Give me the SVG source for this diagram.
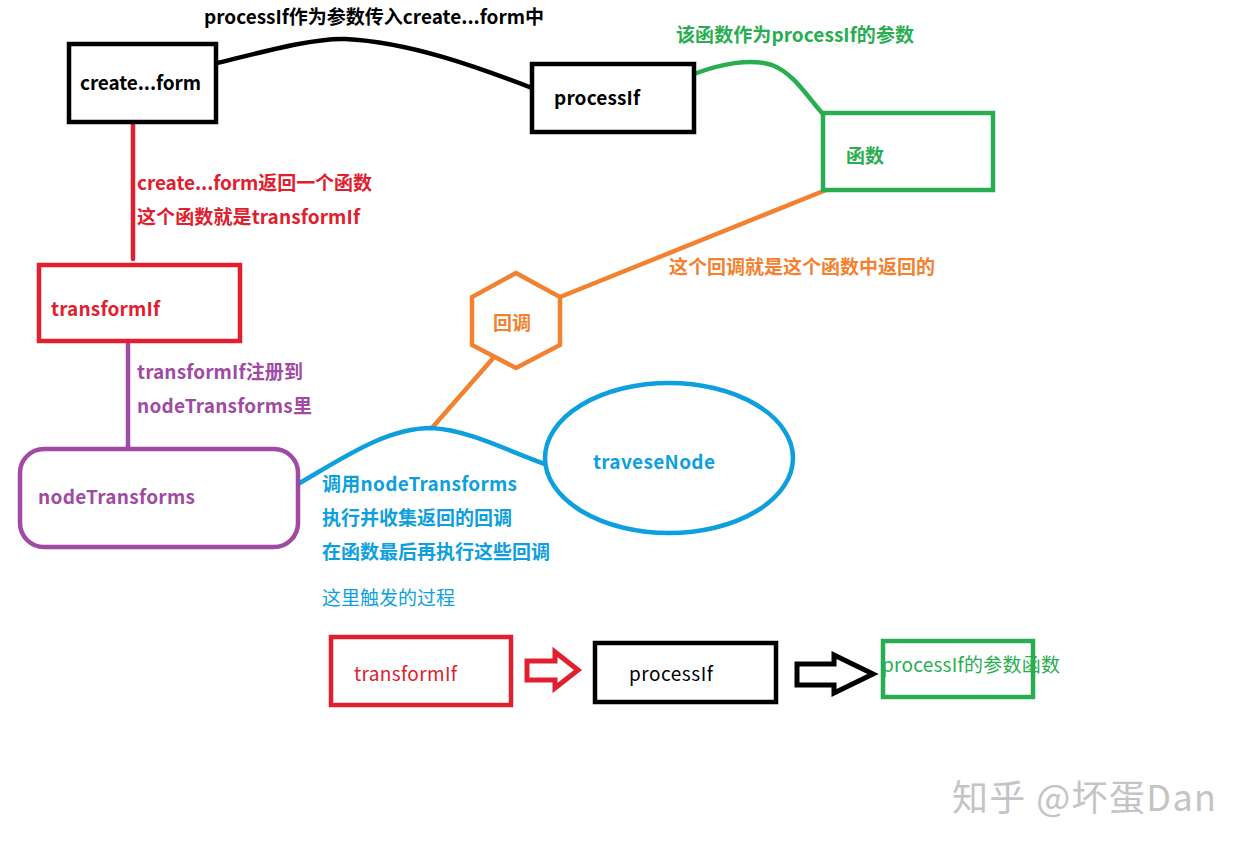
<svg xmlns="http://www.w3.org/2000/svg" width="1247" height="849" viewBox="0 0 1247 849">
<style>
text{font-family:"Noto Sans CJK SC","Open Sans","Liberation Sans",sans-serif;font-size:19px;font-weight:700}
.n{font-family:"Noto Sans CJK SC","Open Sans",sans-serif;font-weight:400}
.box{fill:#fff;stroke-width:4.5}
.c{fill:none;stroke-width:4.5}
.k{stroke:#000}.r{stroke:#e0202e}.g{stroke:#28ae50}.o{stroke:#f28130}.p{stroke:#a04aa4}.b{stroke:#0ea0de}
.tk{fill:#000}.tr{fill:#e0202e}.tg{fill:#28ae50}.to{fill:#f28130}.tp{fill:#a04aa4}.tb{fill:#0ea0de}
</style>
<rect width="1247" height="849" fill="#fff"/>
<g id="connectors">
<path class="c k" d="M217 63C270 50 315 38 345 39C410 42 480 68 532 88"/>
<path class="c g" d="M694 74C720 64 750 58 772 65C795 74 808 98 823 114"/>
<path class="c r" d="M133 122V259" stroke-linecap="round"/>
<path class="c p" d="M128 341V450"/>
<path class="c o" d="M826 190L560 297"/>
<path class="c o" d="M495 356L431 429"/>
<path class="c b" d="M298 484C340 460 385 428 431 428C470 430 510 452 545 464"/>
</g>
<g id="createform"><rect class="box k" x="69" y="44" width="147" height="78"/><text class="tk" x="80" y="90" textLength="121">create...form</text></g>
<g id="processIf"><rect class="box k" x="532" y="64" width="162" height="68"/><text class="tk" x="554" y="105" textLength="86">processIf</text></g>
<g id="hanshu"><rect class="box g" x="823" y="113" width="170" height="77"/><text class="tg" x="846" y="163">函数</text></g>
<g id="transformIf"><rect class="box r" x="39" y="265" width="201" height="76"/><text class="tr" x="51" y="316" textLength="109">transformIf</text></g>
<g id="huidiao"><polygon class="box o" points="516,273 560,297 560,345 516,368 472,345 472,297"/><text class="to" x="493" y="330">回调</text></g>
<g id="nodeTransforms"><rect class="box p" x="20" y="449" width="278" height="98" rx="24"/><text class="tp" x="38" y="504" textLength="157">nodeTransforms</text></g>
<g id="traveseNode"><ellipse class="box b" cx="669" cy="458" rx="124" ry="75"/><text class="tb" x="593" y="469" textLength="122">traveseNode</text></g>
<g id="labels">
<text class="tk" x="204" y="24">processIf作为参数传入create...form中</text>
<text class="tg" x="676" y="42" textLength="238">该函数作为processIf的参数</text>
<text class="tr" x="137" y="190" textLength="235">create...form返回一个函数</text>
<text class="tr" x="137" y="224" textLength="223">这个函数就是transformIf</text>
<text class="to" x="669" y="274">这个回调就是这个函数中返回的</text>
<text class="tp" x="137" y="379" textLength="166">transformIf注册到</text>
<text class="tp" x="137" y="413" textLength="175">nodeTransforms里</text>
<text class="tb" x="322" y="491" textLength="195">调用nodeTransforms</text>
<text class="tb" x="322" y="525">执行并收集返回的回调</text>
<text class="tb" x="322" y="559">在函数最后再执行这些回调</text>
<text class="tb n" x="322" y="605">这里触发的过程</text>
</g>
<g id="transformIf2"><rect class="box r" x="331" y="637" width="180" height="68"/><text class="tr n" x="354" y="681" textLength="103">transformIf</text></g>
<path id="arrow1" d="M527 661H555V652L578 670L555 688V680H527Z" fill="#fff" stroke="#e0202e" stroke-width="5"/>
<g id="processIf2"><rect class="box k" x="595" y="643" width="181" height="59"/><text class="tk n" x="629" y="681" textLength="84">processIf</text></g>
<path id="arrow2" d="M797 664H834V655L873 674L834 693V685H797Z" fill="#fff" stroke="#000" stroke-width="5"/>
<g id="param"><rect class="box g" x="883" y="641" width="150" height="56"/><text class="tg n" x="882" y="672" textLength="178">processIf的参数函数</text></g>
<text id="watermark" x="952" y="811" style="font-size:36px;font-weight:400" fill="#c4c4c4" textLength="264">知乎 @坏蛋Dan</text>
</svg>
